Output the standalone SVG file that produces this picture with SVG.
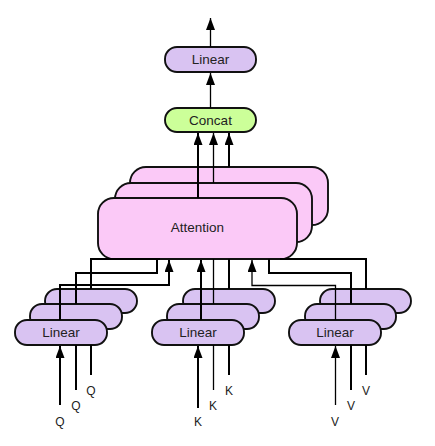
<svg xmlns="http://www.w3.org/2000/svg" width="435" height="446" viewBox="0 0 435 446">
<defs>
<marker id="arr" markerUnits="userSpaceOnUse" markerWidth="12" markerHeight="9" viewBox="0 0 12 9" refX="12" refY="4.5" orient="auto">
<path d="M0,0 L12,4.5 L0,9 z" fill="#000"/>
</marker>
<style>
.lin{fill:#d9c3f2;stroke:#111;stroke-width:1.9}
.att{fill:#fbc9f7;stroke:#111;stroke-width:1.9}
.cat{fill:#ccff99;stroke:#111;stroke-width:1.9}
.t{font-family:"Liberation Sans",Arial,sans-serif;font-size:13.5px;fill:#222;text-anchor:middle}
.lb{font-family:"Liberation Sans",Arial,sans-serif;font-size:12px;fill:#222;text-anchor:middle}
.c{fill:none;stroke:#000;stroke-width:2}
.c1{fill:none;stroke:#000;stroke-width:1.3}
.a{marker-end:url(#arr)}
</style>
</defs>
<rect width="435" height="446" fill="#fff"/>

<g id="linear-out"><rect class="lin" x="165" y="47" width="91" height="25" rx="12"/><text class="t" x="210.5" y="64">Linear</text></g>
<g id="concat"><rect class="cat" x="165" y="108" width="91" height="24" rx="12"/><text class="t" x="210.5" y="124.5">Concat</text></g>

<g id="attention-3"><rect class="att" x="130" y="167" width="198" height="58" rx="16"/></g>
<g id="attention-2"><rect class="att" x="115" y="183" width="197" height="59" rx="16"/></g>
<g id="attention-1"><rect class="att" x="98" y="198" width="199" height="61" rx="16"/><text class="t" x="197.5" y="232">Attention</text></g>

<g id="q-linear-3"><rect class="lin" x="45" y="289" width="92" height="24" rx="12"/></g>
<g id="q-linear-2"><rect class="lin" x="30" y="304" width="92" height="25" rx="12"/></g>
<g id="q-linear-1"><rect class="lin" x="15" y="320" width="92" height="25" rx="12"/><text class="t" x="61" y="336.5">Linear</text></g>

<g id="k-linear-3"><rect class="lin" x="183" y="289" width="92" height="24" rx="12"/></g>
<g id="k-linear-2"><rect class="lin" x="167" y="304" width="92" height="25" rx="12"/></g>
<g id="k-linear-1"><rect class="lin" x="152" y="320" width="92" height="25" rx="12"/><text class="t" x="198" y="336.5">Linear</text></g>

<g id="v-linear-3"><rect class="lin" x="320" y="289" width="91" height="24" rx="12"/></g>
<g id="v-linear-2"><rect class="lin" x="305" y="304" width="91" height="25" rx="12"/></g>
<g id="v-linear-1"><rect class="lin" x="289" y="320" width="92" height="25" rx="12"/><text class="t" x="335" y="336.5">Linear</text></g>

<g id="connectors">
<path class="c1 a" d="M210.5,47 V18"/>
<path class="c1 a" d="M210.5,108 V73"/>
<path class="c a" d="M198,198 V133"/>
<path class="c1 a" d="M213.5,183 V133"/>
<path class="c a" d="M229,167 V133"/>

<path class="c a" d="M60,320 V285 H169 V260"/>
<path class="c" d="M76,304 V273 H157 V259"/>
<path class="c" d="M91,289 V259 H160"/>

<path class="c a" d="M201,320 V260"/>
<path class="c1" d="M213.5,304 V259"/>
<path class="c" d="M229,289 V259"/>

<path class="c1 a" d="M335.5,320 V285.5 H252 V260"/>
<path class="c" d="M351,304 V273 H269 V259"/>
<path class="c" d="M366,289 V259 H280"/>

<path class="c a" d="M60,405 V346"/>
<path class="c" d="M76,345 V390"/>
<path class="c" d="M91,345 V375"/>

<path class="c a" d="M198,408 V346"/>
<path class="c1" d="M213.5,345 V390"/>
<path class="c" d="M229,345 V375"/>

<path class="c1 a" d="M335.5,405 V346"/>
<path class="c" d="M351,345 V390"/>
<path class="c" d="M366,345 V375"/>
</g>

<g id="labels">
<text class="lb" x="60" y="426">Q</text>
<text class="lb" x="76" y="410">Q</text>
<text class="lb" x="91" y="395">Q</text>
<text class="lb" x="198" y="426">K</text>
<text class="lb" x="213" y="410">K</text>
<text class="lb" x="229" y="395">K</text>
<text class="lb" x="335" y="426">V</text>
<text class="lb" x="351" y="410">V</text>
<text class="lb" x="366" y="395">V</text>
</g>
</svg>
